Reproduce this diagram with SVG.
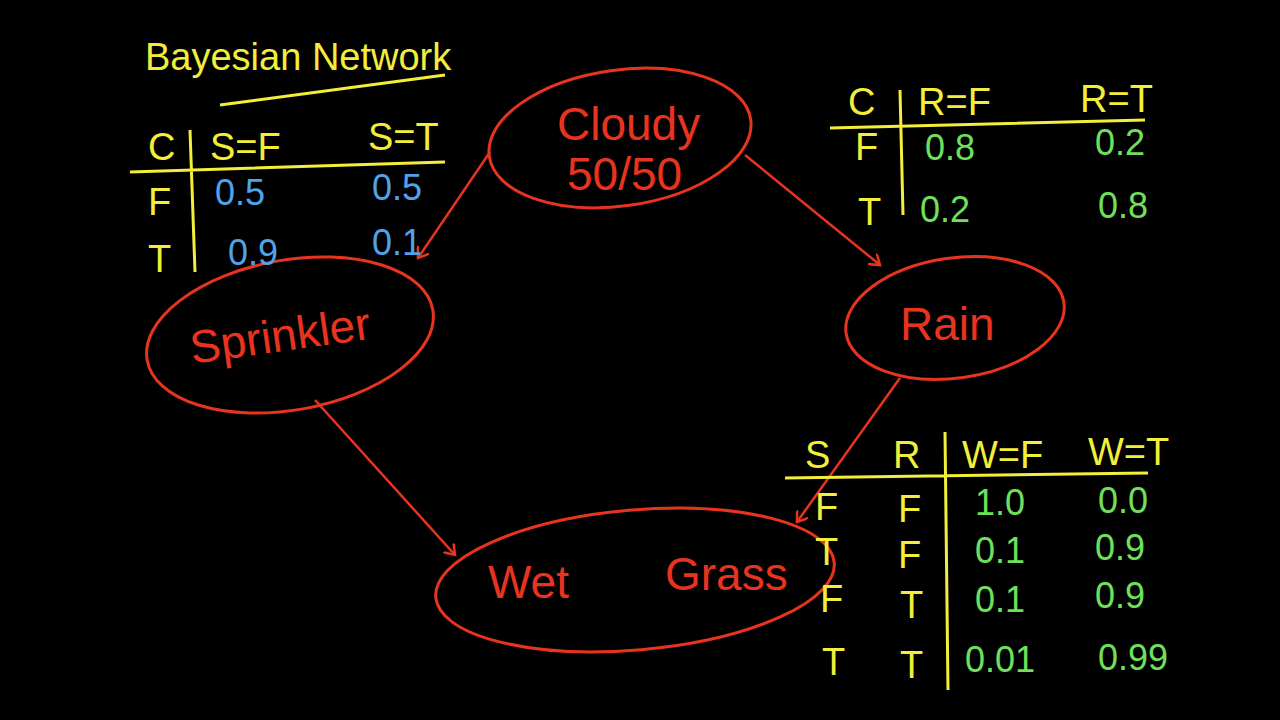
<svg xmlns="http://www.w3.org/2000/svg" width="1280" height="720" viewBox="0 0 1280 720">
<style>
.y{fill:#f2ee3a;font-family:"Liberation Sans",sans-serif;font-size:38px}
.r{fill:#e8341f;font-family:"Liberation Sans",sans-serif;font-size:46px}
.b{fill:#4fa3e8;font-family:"Liberation Sans",sans-serif;font-size:36px}
.g{fill:#6fe05c;font-family:"Liberation Sans",sans-serif;font-size:36px}
.yl{stroke:#f2ee3a;stroke-width:3;fill:none}
.node ellipse{fill:none;stroke:#e8341f;stroke-width:3}
.edge{stroke:#e8341f;stroke-width:2.5;fill:none;marker-end:url(#a)}
</style>
<defs><marker id="a" markerWidth="14" markerHeight="14" refX="10" refY="7" orient="auto" markerUnits="userSpaceOnUse"><path d="M0,0 L10,7 L0,14" fill="none" stroke="#e8341f" stroke-width="2.5"/></marker></defs>
<rect width="1280" height="720" fill="#000"/>
<text class="y" x="145" y="70" font-size="44">Bayesian Network</text>
<path class="yl" d="M220,105 L445,75"/>
<g id="cloudy" class="node"><ellipse cx="620" cy="138" rx="132" ry="68" transform="rotate(-8 620 138)"/><text class="r" x="557" y="140" font-size="42">Cloudy</text><text class="r" x="567" y="190" font-size="36">50/50</text></g>
<g id="sprinkler" class="node"><ellipse cx="290" cy="335" rx="145" ry="75" transform="rotate(-10 290 335)"/><text class="r" x="190" y="350" transform="rotate(-8 290 340)">Sprinkler</text></g>
<g id="rain" class="node"><ellipse cx="955" cy="318" rx="110" ry="60" transform="rotate(-8 955 318)"/><text class="r" x="900" y="340">Rain</text></g>
<g id="wetgrass" class="node"><ellipse cx="635" cy="580" rx="200" ry="70" transform="rotate(-5 635 580)"/><text class="r" x="488" y="598">Wet</text><text class="r" x="665" y="590">Grass</text></g>
<g id="connectors">
<path class="edge" d="M490,152 L418,258"/>
<path class="edge" d="M745,155 L880,265"/>
<path class="edge" d="M315,400 L455,555"/>
<path class="edge" d="M900,378 L797,522"/>
</g>
<g id="table-sprinkler">
<path class="yl" d="M130,172 L445,162 M190,130 L195,272"/>
<text class="y" x="148" y="160">C</text><text class="y" x="210" y="160">S=F</text><text class="y" x="368" y="150">S=T</text>
<text class="y" x="148" y="215">F</text><text class="b" x="215" y="205">0.5</text><text class="b" x="372" y="200">0.5</text>
<text class="y" x="148" y="272">T</text><text class="b" x="228" y="265">0.9</text><text class="b" x="372" y="255">0.1</text>
</g>
<g id="table-rain">
<path class="yl" d="M830,128 L1145,120 M900,90 L903,215"/>
<text class="y" x="848" y="115">C</text><text class="y" x="918" y="115">R=F</text><text class="y" x="1080" y="112">R=T</text>
<text class="y" x="855" y="160">F</text><text class="g" x="925" y="160">0.8</text><text class="g" x="1095" y="155">0.2</text>
<text class="y" x="858" y="225">T</text><text class="g" x="920" y="222">0.2</text><text class="g" x="1098" y="218">0.8</text>
</g>
<g id="table-wetgrass">
<path class="yl" d="M785,478 L1148,473 M945,432 L948,690"/>
<text class="y" x="805" y="468">S</text><text class="y" x="893" y="468">R</text><text class="y" x="962" y="468">W=F</text><text class="y" x="1088" y="465">W=T</text>
<text class="y" x="815" y="520">F</text><text class="y" x="898" y="522">F</text><text class="g" x="975" y="515">1.0</text><text class="g" x="1098" y="513">0.0</text>
<text class="y" x="815" y="565">T</text><text class="y" x="898" y="568">F</text><text class="g" x="975" y="563">0.1</text><text class="g" x="1095" y="560">0.9</text>
<text class="y" x="820" y="612">F</text><text class="y" x="900" y="618">T</text><text class="g" x="975" y="612">0.1</text><text class="g" x="1095" y="608">0.9</text>
<text class="y" x="822" y="675">T</text><text class="y" x="900" y="678">T</text><text class="g" x="965" y="672">0.01</text><text class="g" x="1098" y="670">0.99</text>
</g>
</svg>
